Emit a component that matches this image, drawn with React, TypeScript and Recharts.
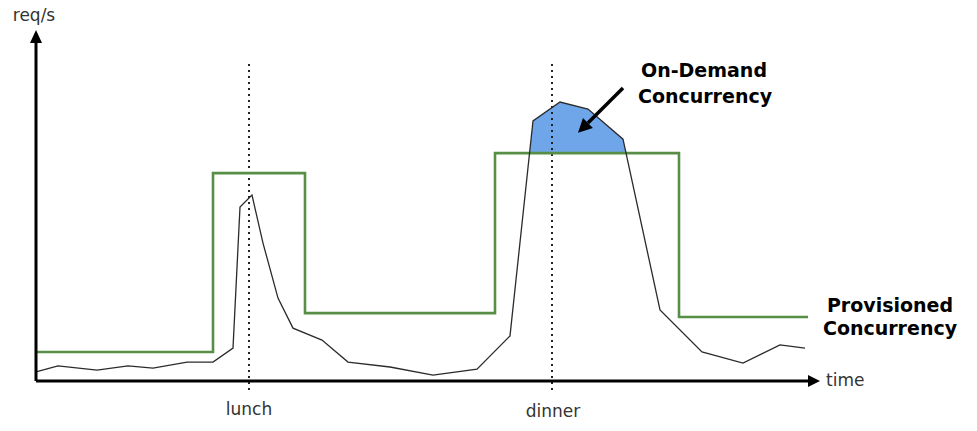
import React from 'react';
import {
  ComposedChart,
  Line,
  Area,
  XAxis,
  YAxis,
  ReferenceLine,
  ReferenceDot,
} from 'recharts';

// time in arbitrary units across the day, load in req/s (relative)
const demandTimes = [
  0, 2.2, 6.1, 9.2, 11.7, 15.1, 17.7, 19.7, 20.4, 21.6, 22.7, 24.2, 25.7, 28.6,
  31.2, 35.4, 39.7, 44.1, 47.4, 49.7, 52.4, 55.2, 58.7, 62.4, 66.6, 70.7, 74.4, 76.9,
];
const demandValues = [
  2.6, 4.3, 3.1, 4.3, 3.7, 5.4, 5.4, 9.4, 49.7, 53.1, 39.4, 23.7, 15.1, 11.7,
  5.4, 4.0, 1.7, 3.4, 12.9, 74.3, 79.7, 77.7, 69.1, 20.3, 8.3, 5.1, 10.3, 9.4,
];

const provisionedTimes = [0, 17.7, 26.9, 45.9, 64.3, 77.2];
const provisionedValues = [8.3, 59.4, 19.4, 65.1, 18.3, 18.3];

const lunchTime = 21.3;
const dinnerTime = 51.6;

const demandData = demandTimes.map((t, i) => ({ t, v: demandValues[i] }));
const provisionedData = provisionedTimes.map((t, i) => ({ t, v: provisionedValues[i] }));

function provisionedAt(t: number) {
  let v = provisionedValues[0];
  for (let i = 0; i < provisionedTimes.length; i++) {
    if (provisionedTimes[i] <= t) v = provisionedValues[i];
  }
  return v;
}

// demand above provisioned -> on-demand range, with crossing points added
function buildExcess() {
  const out: { t: number; r: [number, number] | null }[] = [];
  for (let i = 0; i < demandData.length; i++) {
    const a = demandData[i];
    const pa = provisionedAt(a.t);
    out.push({ t: a.t, r: a.v >= pa ? [pa, a.v] : null });
    const b = demandData[i + 1];
    if (!b) break;
    const pb = provisionedAt(b.t);
    if (pa !== pb) continue;
    const da = a.v - pa;
    const db = b.v - pb;
    if (da * db < 0) {
      const k = da / (da - db);
      const t = a.t + (b.t - a.t) * k;
      out.push({ t, r: [pa, pa] });
    }
  }
  return out;
}
const excessData = buildExcess();

const Arrow = ({ x1, y1, x2, y2 }: any) => {
  const ang = Math.atan2(y2 - y1, x2 - x1);
  const len = 14;
  const w = 7;
  const bx = x2 - len * Math.cos(ang);
  const by = y2 - len * Math.sin(ang);
  const px = -Math.sin(ang) * w;
  const py = Math.cos(ang) * w;
  return (
    <g>
      <line x1={x1} y1={y1} x2={bx} y2={by} stroke="#000" strokeWidth={3.5} />
      <polygon points={`${x2},${y2} ${bx + px},${by + py} ${bx - px},${by - py}`} fill="#000" />
    </g>
  );
};

const RightHead = ({ cx, cy }: any) => (
  <polygon points={`${cx + 4},${cy} ${cx - 8},${cy - 6} ${cx - 8},${cy + 6}`} fill="#000" />
);
const UpHead = ({ cx, cy }: any) => (
  <polygon points={`${cx},${cy - 1} ${cx - 6},${cy + 12} ${cx + 6},${cy + 12}`} fill="#000" />
);

export default function App() {
  const font = '"DejaVu Sans", sans-serif';
  return (
    <div style={{ position: 'absolute', left: 0, top: 0, width: 977, height: 431, background: '#fff' }}>
      <ComposedChart
        width={977}
        height={431}
        margin={{ top: 31, right: 161, bottom: 50, left: 36 }}
      >
        <XAxis
          type="number"
          dataKey="t"
          domain={[0, 78]}
          height={0}
          tick={false}
          tickLine={false}
          axisLine={false}
          allowDuplicatedCategory={false}
        />
        <YAxis
          type="number"
          domain={[0, 100]}
          width={0}
          tick={false}
          tickLine={false}
          axisLine={false}
        />
        <ReferenceLine
          segment={[{ x: lunchTime, y: -2.6 }, { x: lunchTime, y: 91 }]}
          stroke="#222"
          strokeWidth={2}
          strokeDasharray="2 4"
          ifOverflow="visible"
        />
        <ReferenceLine
          segment={[{ x: dinnerTime, y: -2.6 }, { x: dinnerTime, y: 91 }]}
          stroke="#222"
          strokeWidth={2}
          strokeDasharray="2 4"
          ifOverflow="visible"
        />
        <Area
          data={excessData}
          dataKey="r"
          type="linear"
          fill="#6fa6ea"
          fillOpacity={1}
          stroke="none"
          connectNulls={false}
          isAnimationActive={false}
        />
        <Line
          data={provisionedData}
          dataKey="v"
          type="stepAfter"
          stroke="#568f45"
          strokeWidth={2.6}
          dot={false}
          isAnimationActive={false}
        />
        <Line
          data={demandData}
          dataKey="v"
          type="linear"
          stroke="#2b2b2b"
          strokeWidth={1.3}
          dot={false}
          isAnimationActive={false}
        />
        {/* axes drawn as reference segments so they end in arrowheads */}
        <ReferenceLine
          segment={[{ x: 0, y: 0 }, { x: 77.4, y: 0 }]}
          stroke="#000"
          strokeWidth={3}
          ifOverflow="visible"
        />
        <ReferenceLine
          segment={[{ x: 0, y: 0 }, { x: 0, y: 97 }]}
          stroke="#000"
          strokeWidth={3}
          ifOverflow="visible"
        />
        <ReferenceLine
          segment={[{ x: 58.7, y: 83.7 }, { x: 54.2, y: 70.9 }]}
          ifOverflow="visible"
          shape={Arrow}
        />
        <ReferenceDot x={78} y={0} r={0} ifOverflow="visible" shape={RightHead} />
        <ReferenceDot x={0} y={100} r={0} ifOverflow="visible" shape={UpHead} />
      </ComposedChart>
      <svg
        width={977}
        height={431}
        style={{ position: 'absolute', left: 0, top: 0, pointerEvents: 'none' }}
      >
        <g fontFamily={font} fill="#333" fontSize={17}>
          <text x={34} y={21} textAnchor="middle">req/s</text>
          <text x={826} y={386}>time</text>
          <text x={249} y={415} textAnchor="middle">lunch</text>
          <text x={553} y={417} textAnchor="middle">dinner</text>
        </g>
        <g fontFamily={font} fill="#000" fontSize={19} fontWeight="bold" textAnchor="middle">
          <text x={704} y={77}>On-Demand</text>
          <text x={705} y={103}>Concurrency</text>
          <text x={890} y={312}>Provisioned</text>
          <text x={890} y={335}>Concurrency</text>
        </g>
      </svg>
    </div>
  );
}
